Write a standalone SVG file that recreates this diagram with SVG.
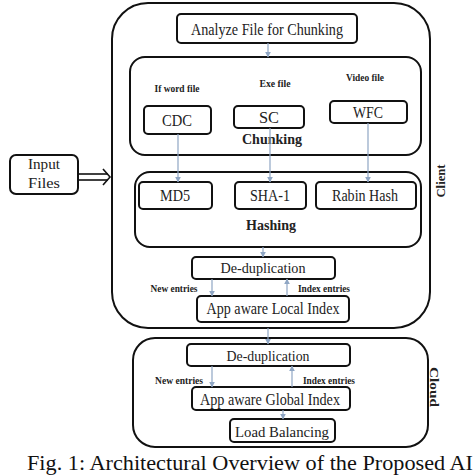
<svg xmlns="http://www.w3.org/2000/svg" width="474" height="475" viewBox="0 0 474 475" font-family="'Liberation Serif', 'Times New Roman', serif">
<style>
.box{fill:#fff;stroke:#111;stroke-width:2}
.grp{fill:none;stroke:#111;stroke-width:2}
.t{fill:#222;text-anchor:middle}
.b{font-weight:bold;fill:#222;text-anchor:middle}
.c{stroke:#8fa6c4;stroke-width:1.2;fill:none;marker-end:url(#ah)}
</style>
<defs>
<marker id="ah" viewBox="0 0 10 10" refX="9" refY="5" markerWidth="6" markerHeight="6" orient="auto" markerUnits="userSpaceOnUse">
<path d="M0,0 L10,5 L0,10 z" fill="#8fa6c4"/>
</marker>
</defs>
<rect width="474" height="475" fill="#fff"/>

<g id="client">
<rect class="grp" x="112" y="3" width="318" height="325" rx="36" ry="36"/>
<text class="b" font-size="12" transform="translate(441,181) rotate(-90)" dy="4" textLength="33" lengthAdjust="spacingAndGlyphs">Client</text>
</g>
<g id="chunking">
<rect class="grp" x="130" y="57" width="291" height="98" rx="15" ry="15"/>
<text class="b" font-size="14" x="272" y="144" textLength="60" lengthAdjust="spacingAndGlyphs">Chunking</text>
</g>
<g id="hashing">
<rect class="grp" x="135" y="172" width="286" height="75" rx="15" ry="15"/>
<text class="b" font-size="14" x="271" y="230" textLength="50" lengthAdjust="spacingAndGlyphs">Hashing</text>
</g>
<g id="cloud">
<rect class="grp" x="133" y="338" width="295" height="109" rx="22" ry="22"/>
<text class="b" font-size="12" transform="translate(434,387) rotate(90)" dy="4" textLength="40" lengthAdjust="spacingAndGlyphs">Cloud</text>
</g>

<g id="analyze">
<rect class="box" x="177" y="14" width="180" height="29" rx="4"/>
<text class="t" font-size="17" x="267" y="35" textLength="152" lengthAdjust="spacingAndGlyphs">Analyze File for Chunking</text>
</g>
<g id="cdc">
<text class="b" font-size="10" x="177" y="92" textLength="45" lengthAdjust="spacingAndGlyphs">If word  file</text>
<rect class="box" x="144" y="106" width="67" height="28" rx="4"/>
<text class="t" font-size="17" x="177" y="126" textLength="30" lengthAdjust="spacingAndGlyphs">CDC</text>
</g>
<g id="sc">
<text class="b" font-size="10" x="275" y="87" textLength="31" lengthAdjust="spacingAndGlyphs">Exe file</text>
<rect class="box" x="234" y="106" width="70" height="22" rx="4"/>
<text class="t" font-size="17" x="269" y="123" textLength="20" lengthAdjust="spacingAndGlyphs">SC</text>
</g>
<g id="wfc">
<text class="b" font-size="10" x="365" y="81" textLength="38" lengthAdjust="spacingAndGlyphs">Video file</text>
<rect class="box" x="330" y="101" width="77" height="22" rx="4"/>
<text class="t" font-size="17" x="368" y="118" textLength="30" lengthAdjust="spacingAndGlyphs">WFC</text>
</g>
<g id="input">
<rect class="box" x="10" y="155" width="68" height="39" rx="6"/>
<text class="t" font-size="15" x="44" y="169" textLength="32" lengthAdjust="spacingAndGlyphs">Input</text>
<text class="t" font-size="15" x="44" y="188" textLength="32" lengthAdjust="spacingAndGlyphs">Files</text>
</g>
<g id="md5">
<rect class="box" x="139" y="182" width="73" height="27" rx="4"/>
<text class="t" font-size="16" x="175" y="201" textLength="30" lengthAdjust="spacingAndGlyphs">MD5</text>
</g>
<g id="sha1">
<rect class="box" x="235" y="182" width="71" height="27" rx="4"/>
<text class="t" font-size="16" x="270" y="201" textLength="40" lengthAdjust="spacingAndGlyphs">SHA-1</text>
</g>
<g id="rabin">
<rect class="box" x="316" y="182" width="100" height="27" rx="4"/>
<text class="t" font-size="16" x="365" y="201" textLength="66" lengthAdjust="spacingAndGlyphs">Rabin Hash</text>
</g>
<g id="dedup-client">
<rect class="box" x="192" y="257" width="143" height="22" rx="4"/>
<text class="t" font-size="15" x="263" y="273" textLength="85" lengthAdjust="spacingAndGlyphs">De-duplication</text>
</g>
<g id="local-index">
<rect class="box" x="197" y="296" width="152" height="26" rx="4"/>
<text class="t" font-size="16" x="273" y="314" textLength="133" lengthAdjust="spacingAndGlyphs">App aware Local Index</text>
</g>
<g id="dedup-cloud">
<rect class="box" x="187" y="344" width="163" height="22" rx="4"/>
<text class="t" font-size="15" x="268" y="361" textLength="83" lengthAdjust="spacingAndGlyphs">De-duplication</text>
</g>
<g id="global-index">
<rect class="box" x="192" y="387" width="158" height="23" rx="4"/>
<text class="t" font-size="16" x="270" y="405" textLength="140" lengthAdjust="spacingAndGlyphs">App aware Global Index</text>
</g>
<g id="load-balancing">
<rect class="box" x="230" y="419" width="105" height="23" rx="4"/>
<text class="t" font-size="15" x="282" y="437" textLength="94" lengthAdjust="spacingAndGlyphs">Load Balancing</text>
</g>

<g id="labels">
<text class="b" font-size="9.5" x="174" y="292" textLength="47" lengthAdjust="spacingAndGlyphs">New entries</text>
<text class="b" font-size="9.5" x="324" y="292" textLength="52" lengthAdjust="spacingAndGlyphs">Index entries</text>
<text class="b" font-size="9.5" x="179" y="384" textLength="48" lengthAdjust="spacingAndGlyphs">New entries</text>
<text class="b" font-size="9.5" x="329" y="384" textLength="52" lengthAdjust="spacingAndGlyphs">Index entries</text>
</g>

<g id="connectors">
<line class="c" x1="268" y1="43" x2="268" y2="57"/>
<line class="c" x1="178" y1="134" x2="178" y2="182"/>
<line class="c" x1="270" y1="128" x2="270" y2="182"/>
<line class="c" x1="368" y1="123" x2="368" y2="182"/>
<line class="c" x1="263" y1="247" x2="263" y2="257"/>
<line class="c" x1="212" y1="279" x2="212" y2="296"/>
<line class="c" x1="287" y1="296" x2="287" y2="279"/>
<line class="c" x1="268" y1="328" x2="268" y2="344"/>
<line class="c" x1="212" y1="366" x2="212" y2="387"/>
<line class="c" x1="292" y1="387" x2="292" y2="366"/>
<line class="c" x1="283" y1="410" x2="283" y2="419"/>
<g stroke="#111" stroke-width="1.6" fill="none">
<line x1="78" y1="174" x2="108" y2="174"/>
<line x1="78" y1="180" x2="108" y2="180"/>
<polyline points="103,169 110,177 103,185"/>
</g>
</g>

<text x="27" y="470" font-size="22" fill="#111" textLength="446" lengthAdjust="spacingAndGlyphs">Fig. 1: Architectural Overview of the Proposed AI</text>
</svg>
